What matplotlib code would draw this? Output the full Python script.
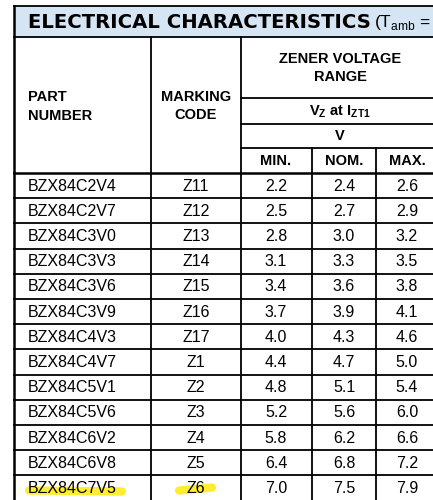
import matplotlib
matplotlib.use("Agg")
import matplotlib.pyplot as plt

parts = ["BZX84C2V4","BZX84C2V7","BZX84C3V0","BZX84C3V3","BZX84C3V6","BZX84C3V9",
         "BZX84C4V3","BZX84C4V7","BZX84C5V1","BZX84C5V6","BZX84C6V2","BZX84C6V8","BZX84C7V5"]
codes = ["Z11","Z12","Z13","Z14","Z15","Z16","Z17","Z1","Z2","Z3","Z4","Z5","Z6"]
vmin = ["2.2","2.5","2.8","3.1","3.4","3.7","4.0","4.4","4.8","5.2","5.8","6.4","7.0"]
vnom = ["2.4","2.7","3.0","3.3","3.6","3.9","4.3","4.7","5.1","5.6","6.2","6.8","7.5"]
vmax = ["2.6","2.9","3.2","3.5","3.8","4.1","4.6","5.0","5.4","6.0","6.6","7.2","7.9"]

plt.rcParams['font.family'] = ['Liberation Sans', 'DejaVu Sans']
fig = plt.figure(figsize=(4.33, 5.0), dpi=100)
ax = fig.add_axes([0, 0, 1, 1])
ax.set_xlim(0, 433); ax.set_ylim(500, 0); ax.axis('off')

L = 14; R = 440
xs = [L, 151, 241, 312, 376, R]
top = 6; tb = 37; h1 = 98; h2 = 124; h3 = 148; h4 = 173; rh = 25.2
lw = 1.3
# title band
ax.add_patch(plt.Rectangle((L, top), R - L, tb - top, facecolor='#d5e5f3', edgecolor='none'))
ax.plot([L, R], [top, top], color='black', lw=lw)
ax.plot([L, R], [tb, tb], color='black', lw=lw)
ax.plot([L, L], [top, 505], color='black', lw=1.8)
ax.text(28, 22, "ELECTRICAL CHARACTERISTICS", fontsize=14.1, fontweight='bold',
        family='DejaVu Sans', va='center', ha='left')
ax.text(374, 23, "(T$_{\\mathregular{amb}}$ =", fontsize=12.5, va='center', ha='left')
# header lines
for x in xs[1:3]:
    ax.plot([x, x], [tb, 505], color='black', lw=lw)
for x in xs[3:5]:
    ax.plot([x, x], [h3, 505], color='black', lw=lw)
ax.plot([241, R], [h1, h1], color='black', lw=lw)
ax.plot([241, R], [h2, h2], color='black', lw=lw)
ax.plot([241, R], [h3, h3], color='black', lw=lw)
ax.plot([L, R], [h4, h4], color='black', lw=1.8)
hb = dict(fontsize=10.5, fontweight='bold', va='center')
ax.text(28, 97, "PART", ha='left', **hb)
ax.text(28, 116, "NUMBER", ha='left', **hb)
ax.text(196, 97, "MARKING", ha='center', **hb)
ax.text(196, 115, "CODE", ha='center', **hb)
ax.text(340, 59, "ZENER VOLTAGE", ha='center', **hb)
ax.text(340, 77, "RANGE", ha='center', **hb)
ax.text(340, 112, "V$_{\\mathregular{Z}}$ at I$_{\\mathregular{ZT1}}$", ha='center', **hb)
ax.text(340, 136, "V", ha='center', **hb)
ax.text(276, 161, "MIN.", ha='center', **hb)
ax.text(344, 161, "NOM.", ha='center', **hb)
ax.text(407, 161, "MAX.", ha='center', **hb)
# rows
for i in range(len(parts)):
    y0 = h4 + i * rh
    yc = y0 + rh / 2 + 0.5
    if i > 0:
        ax.plot([L, R], [y0, y0], color='black', lw=lw)
    if i == len(parts) - 1:
        ax.plot([29, 122], [yc + 2, yc + 3], color='#ffee30', lw=6, solid_capstyle='round', zorder=0)
        ax.plot([179, 212], [yc + 2, yc - 1], color='#ffee30', lw=6, solid_capstyle='round', zorder=0)
    kw = dict(fontsize=11.5, va='center')
    ax.text(28, yc, parts[i], ha='left', **kw)
    ax.text(196, yc, codes[i], ha='center', **kw)
    ax.text(276, yc, vmin[i], ha='center', **kw)
    ax.text(344, yc, vnom[i], ha='center', **kw)
    ax.text(407, yc, vmax[i], ha='center', **kw)

fig.savefig("out.png", dpi=100)
